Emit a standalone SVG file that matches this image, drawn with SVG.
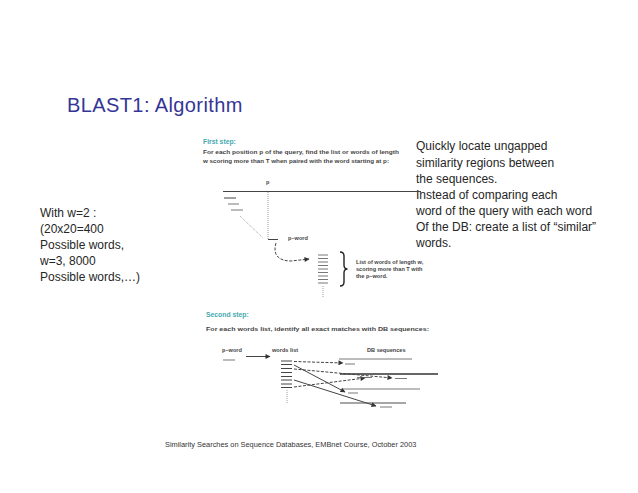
<svg xmlns="http://www.w3.org/2000/svg" width="638" height="493" viewBox="0 0 638 493">
<defs>
<style>
.main{font-family:"Liberation Sans",Arial,sans-serif;font-size:12px;fill:#262626}
.title{font-family:"Liberation Sans",Arial,sans-serif;font-size:20px;letter-spacing:0.4px;fill:#353596}
.foot{font-family:"Liberation Sans",Arial,sans-serif;font-size:7.4px;fill:#333}
.fig{font-family:"Liberation Sans",Arial,sans-serif;font-size:5.6px;font-weight:bold;fill:#444}
.step{font-family:"Liberation Sans",Arial,sans-serif;font-size:6.8px;font-weight:bold;fill:#46aab0}
.ln{stroke:#444;stroke-width:1;fill:none}
.thin{stroke:#555;stroke-width:0.8;fill:none}
.dot{stroke:#888;stroke-width:0.8;stroke-dasharray:1,1;fill:none}
.dash{stroke:#444;stroke-width:1;stroke-dasharray:3,1.5;fill:none}
</style>
<marker id="ah" viewBox="0 0 10 10" refX="9" refY="5" markerWidth="6" markerHeight="5" orient="auto" markerUnits="userSpaceOnUse">
<path d="M0,0 L10,5 L0,10 z" fill="#333"/>
</marker>
</defs>
<rect width="638" height="493" fill="#fff"/>

<g id="title"><text class="title" x="67" y="112">BLAST1: Algorithm</text></g>

<g id="left-note">
<text class="main" x="40" y="217">With w=2 :</text>
<text class="main" x="40" y="233">(20x20=400</text>
<text class="main" x="40" y="249">Possible words,</text>
<text class="main" x="40" y="265">w=3, 8000</text>
<text class="main" x="40" y="281">Possible words,…)</text>
</g>

<g id="right-note">
<text class="main" x="416" y="150">Quickly locate ungapped</text>
<text class="main" x="416" y="167">similarity regions between</text>
<text class="main" x="416" y="183">the sequences.</text>
<text class="main" x="416" y="199">Instead of comparing each</text>
<text class="main" x="416" y="215">word of the query with each word</text>
<text class="main" x="416" y="231">Of the DB: create a list of “similar”</text>
<text class="main" x="416" y="247">words.</text>
</g>

<g id="first-step">
<text class="step" x="203" y="144">First step:</text>
<text class="fig" x="203" y="154" textLength="196" lengthAdjust="spacingAndGlyphs">For each position p of the query, find the list or words of length</text>
<text class="fig" x="203" y="163" textLength="186" lengthAdjust="spacingAndGlyphs">w scoring more than T when paired with the word starting at p:</text>
<text class="fig" x="266" y="184">p</text>
<line class="ln" x1="223" y1="191.5" x2="421" y2="191.5"/>
<line class="dot" x1="268" y1="192" x2="268" y2="239"/>
<line class="ln" x1="268" y1="239.5" x2="278" y2="239.5"/>
<line class="ln" x1="224" y1="198" x2="236" y2="198"/>
<line class="thin" x1="228" y1="204" x2="239" y2="204"/>
<line class="thin" x1="231" y1="210" x2="243" y2="210"/>
<line class="dot" x1="240" y1="216" x2="263" y2="238"/>
<text class="fig" x="288" y="240">p–word</text>
<path class="dash" d="M276,243 C273,252 276,261 291,261 L309,259" marker-end="url(#ah)"/>
<g id="word-list">
<line class="thin" x1="318" y1="255" x2="328" y2="255"/>
<line class="thin" x1="318" y1="258.5" x2="328" y2="258.5"/>
<line class="thin" x1="318" y1="262" x2="328" y2="262"/>
<line class="thin" x1="318" y1="265.5" x2="328" y2="265.5"/>
<line class="thin" x1="318" y1="269" x2="328" y2="269"/>
<line class="thin" x1="318" y1="272.5" x2="328" y2="272.5"/>
<line class="thin" x1="318" y1="276" x2="328" y2="276"/>
<line class="thin" x1="318" y1="279.5" x2="328" y2="279.5"/>
<line class="thin" x1="318" y1="283" x2="328" y2="283"/>
</g>
<line class="dot" x1="323" y1="286" x2="323" y2="297"/>
<path d="M340,252 q4,0 4,4 v9 q0,4 3.5,4 q-3.5,0 -3.5,4 v9 q0,4 -4,4" stroke="#222" stroke-width="1.4" fill="none"/>
<text class="fig" x="356" y="264">List of words of length w,</text>
<text class="fig" x="356" y="271">scoring more than T with</text>
<text class="fig" x="356" y="278">the p–word.</text>
</g>

<g id="second-step">
<text class="step" x="206" y="317">Second step:</text>
<text class="fig" x="206" y="331" textLength="223" lengthAdjust="spacingAndGlyphs">For each words list, identify all exact matches with DB sequences:</text>
<text class="fig" x="222" y="352">p–word</text>
<text class="fig" x="272" y="352">words list</text>
<text class="fig" x="367" y="352">DB sequences</text>
<line class="thin" x1="223" y1="360" x2="235" y2="360"/>
<line class="ln" x1="246" y1="356.5" x2="270" y2="356.5" marker-end="url(#ah)"/>
<g id="words-list-2">
<line class="ln" x1="281" y1="361" x2="292" y2="361"/>
<line class="ln" x1="281" y1="364.5" x2="292" y2="364.5"/>
<line class="ln" x1="281" y1="368.5" x2="292" y2="368.5"/>
<line class="ln" x1="281" y1="372.5" x2="292" y2="372.5"/>
<line class="ln" x1="281" y1="376.5" x2="292" y2="376.5"/>
<line class="ln" x1="281" y1="380" x2="292" y2="380"/>
<line class="ln" x1="281" y1="384" x2="292" y2="384"/>
<line class="ln" x1="281" y1="387.5" x2="292" y2="387.5"/>
</g>
<line class="dot" x1="287" y1="390" x2="287" y2="403"/>
<g id="db-seqs">
<line class="thin" x1="339" y1="359" x2="412" y2="359"/>
<line stroke="#333" stroke-width="1.3" x1="340" y1="374" x2="438" y2="374"/>
<line class="thin" x1="343" y1="389" x2="420" y2="389"/>
<line stroke="#888" stroke-width="1.5" x1="340" y1="403" x2="406" y2="403"/>
</g>
<g id="connectors">
<path class="dash" d="M294,361.5 L343,363" marker-end="url(#ah)"/>
<line class="thin" x1="345" y1="364" x2="355" y2="364"/>
<path class="ln" d="M294,365 L345,392" marker-end="url(#ah)"/>
<line class="thin" x1="348" y1="393" x2="358" y2="393"/>
<path class="dash" d="M294,369 L392,378" marker-end="url(#ah)"/>
<line class="thin" x1="395" y1="378.5" x2="407" y2="378.5"/>
<path class="dash" d="M294,387 L365,378" marker-end="url(#ah)"/>
<line class="thin" x1="357" y1="377.5" x2="372" y2="377.5"/>
<path class="ln" d="M294,380 L376,406" marker-end="url(#ah)"/>
<line class="thin" x1="380" y1="407" x2="392" y2="407"/>
</g>
</g>

<g id="footer"><text class="foot" x="165" y="447">Similarity Searches on Sequence Databases, EMBnet Course, October 2003</text></g>
</svg>
